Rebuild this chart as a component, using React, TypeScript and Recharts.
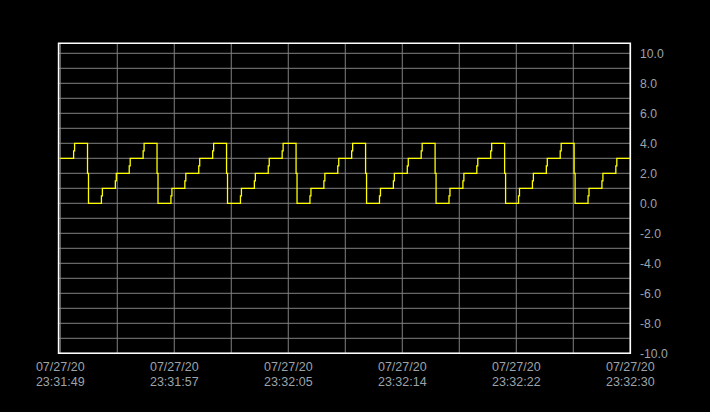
import React from 'react';
import { LineChart, Line, XAxis, YAxis, CartesianGrid, ReferenceArea } from 'recharts';

// seconds since 23:31:49
const sampleTimes = [
  0, 0.96, 1.03,
  1.96, 2.03, 2.96, 3.03, 3.96, 4.03, 4.96, 5.03, 5.96, 6.03,
  6.96, 7.03, 7.96, 8.03, 8.96, 9.03, 9.96, 10.03, 10.96, 11.03,
  11.96, 12.03, 12.96, 13.03, 13.96, 14.03, 14.96, 15.03, 15.96, 16.03,
  16.96, 17.03, 17.96, 18.03, 18.96, 19.03, 19.96, 20.03, 20.96, 21.03,
  21.96, 22.03, 22.96, 23.03, 23.96, 24.03, 24.96, 25.03, 25.96, 26.03,
  26.96, 27.03, 27.96, 28.03, 28.96, 29.03, 29.96, 30.03, 30.96, 31.03,
  31.96, 32.03, 32.96, 33.03, 33.96, 34.03, 34.96, 35.03, 35.96, 36.03,
  36.96, 37.03, 37.96, 38.03, 38.96, 39.03, 39.96, 40.03,
  41,
];
const sampleValues = [
  3, 3.5, 4,
  2, 0, 0.5, 1, 1.5, 2, 2.5, 3, 3.5, 4,
  2, 0, 0.5, 1, 1.5, 2, 2.5, 3, 3.5, 4,
  2, 0, 0.5, 1, 1.5, 2, 2.5, 3, 3.5, 4,
  2, 0, 0.5, 1, 1.5, 2, 2.5, 3, 3.5, 4,
  2, 0, 0.5, 1, 1.5, 2, 2.5, 3, 3.5, 4,
  2, 0, 0.5, 1, 1.5, 2, 2.5, 3, 3.5, 4,
  2, 0, 0.5, 1, 1.5, 2, 2.5, 3, 3.5, 4,
  2, 0, 0.5, 1, 1.5, 2, 2.5, 3,
  3,
];

const xTickValues = [0, 8.2, 16.4, 24.6, 32.8, 41];
const xTickDates = ['07/27/20', '07/27/20', '07/27/20', '07/27/20', '07/27/20', '07/27/20'];
const xTickTimes = ['23:31:49', '23:31:57', '23:32:05', '23:32:14', '23:32:22', '23:32:30'];
const xGridValues = [0, 4.1, 8.2, 12.3, 16.4, 20.5, 24.6, 28.7, 32.8, 36.9, 41];

const yTickValues = [-10, -8, -6, -4, -2, 0, 2, 4, 6, 8, 10];
const yGridValues = [-10, -9, -8, -7, -6, -5, -4, -3, -2, -1, 0, 1, 2, 3, 4, 5, 6, 7, 8, 9, 10];

const X_MIN = -0.12;
const X_MAX = 41;
const Y_MIN = -10;
const Y_MAX = 10.667;

const data = sampleTimes.map((t, i) => ({ t, v: sampleValues[i] }));

const FONT = '"Liberation Sans", Arial, sans-serif';
const TEXT = '#9ca3aa';

const XTick = (props: any) => {
  const { x, y, payload } = props;
  const idx = xTickValues.indexOf(payload.value);
  if (idx < 0) return null;
  return (
    <g>
      <text x={x} y={y + 17.2} textAnchor="middle" fill={TEXT} fontSize={12.5} fontFamily={FONT}>
        {xTickDates[idx]}
      </text>
      <text x={x} y={y + 32.8} textAnchor="middle" fill={TEXT} fontSize={12.5} fontFamily={FONT}>
        {xTickTimes[idx]}
      </text>
    </g>
  );
};

const YTick = (props: any) => {
  const { x, y, payload } = props;
  return (
    <text x={x} y={y + 4.4} textAnchor="start" fill={TEXT} fontSize={12.2} fontFamily={FONT}>
      {Number(payload.value).toFixed(1)}
    </text>
  );
};

export default function App() {
  return (
    <div style={{ position: 'fixed', left: 0, top: 0, width: 710, height: 412, background: '#000' }}>
      <LineChart
        width={710}
        height={412}
        data={data}
        margin={{ top: 43.3, left: 58.6, right: 0, bottom: 0 }}
      >
        <CartesianGrid
          stroke="#808080"
          strokeWidth={1}
          horizontalValues={yGridValues}
          verticalValues={xGridValues}
        />
        <XAxis
          dataKey="t"
          type="number"
          domain={[X_MIN, X_MAX]}
          ticks={xTickValues}
          allowDataOverflow
          axisLine={false}
          tickLine={false}
          tickSize={0}
          tickMargin={0}
          height={58.7}
          tick={<XTick />}
          interval={0}
        />
        <YAxis
          orientation="right"
          type="number"
          domain={[Y_MIN, Y_MAX]}
          ticks={yTickValues}
          allowDataOverflow
          axisLine={false}
          tickLine={false}
          tickSize={0}
          tickMargin={9.7}
          width={79.7}
          tick={<YTick />}
          interval={0}
        />
        <ReferenceArea
          x1={X_MIN}
          x2={X_MAX}
          y1={Y_MIN}
          y2={Y_MAX}
          fill="none"
          fillOpacity={0}
          stroke="#ffffff"
          strokeWidth={1.6}
          ifOverflow="visible"
        />
        <Line
          type="stepAfter"
          dataKey="v"
          stroke="#ffff00"
          strokeWidth={1.3}
          dot={false}
          activeDot={false}
          isAnimationActive={false}
        />
      </LineChart>
    </div>
  );
}
